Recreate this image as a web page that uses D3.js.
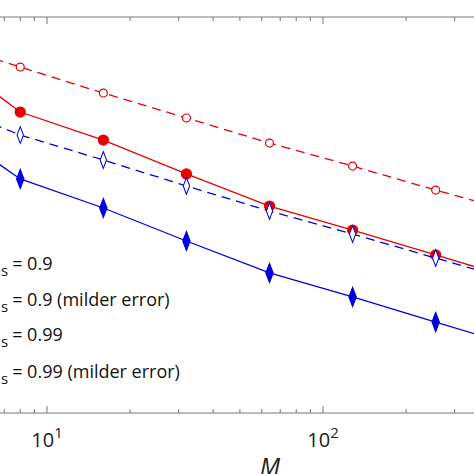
<!DOCTYPE html>
<html><head><meta charset="utf-8">
<script src="https://cdn.jsdelivr.net/npm/d3@7"></script>
<style>body{margin:0;background:#fff}</style>
</head><body><svg id="c" width="474" height="474"></svg>
<script>
// M values and log10(error) for each series
const M = [4, 8, 16, 32, 64, 128, 256, 512]
const redDashed = [-1.182, -1.379, -1.576, -1.765, -1.955, -2.129, -2.311, -2.485]
const redSolid = [-1.25, -1.720, -1.932, -2.189, -2.432, -2.614, -2.803, -2.992]
const blueDashed = [-1.644, -1.894, -2.083, -2.280, -2.470, -2.644, -2.826, -3.008]
const blueSolid = [-1.788, -2.227, -2.447, -2.697, -2.939, -3.121, -3.311, -3.5]
const legendLabels = ["= 0.9", "= 0.9 (milder error)", "= 0.99", "= 0.99 (milder error)"]

const svg = d3.select('#c')
const plotTop = 17, plotBottom = 413

const x = d3.scaleLog().domain([10, 100]).range([47, 323])
const y = d3.scaleLinear().domain([-1, -4]).range([plotTop, plotTop + 3 * 132])

svg.append('defs').append('clipPath').attr('id', 'clip')
    .append('rect').attr('x', 0).attr('y', plotTop).attr('width', 474).attr('height', plotBottom - plotTop)

// axes (top and bottom, ticks pointing inward)
const ticks = []
for (let k = 0; k <= 2; k++) for (let m = 1; m <= 9; m++) ticks.push(m * Math.pow(10, k))
const vis = ticks.filter(t => x(t) >= 0 && x(t) <= 474)
const axisColor = '#777'
for (const yy of [plotTop, plotBottom]) {
    svg.append('line').attr('x1', 0).attr('x2', 474).attr('y1', yy).attr('y2', yy)
        .attr('stroke', axisColor).attr('stroke-width', 1)
    const dir = yy === plotTop ? 1 : -1
    svg.selectAll(null).data(vis).enter().append('line')
        .attr('x1', d => x(d)).attr('x2', d => x(d))
        .attr('y1', yy)
        .attr('y2', d => yy + dir * (Number.isInteger(Math.log10(d)) ? 7 : 4))
        .attr('stroke', axisColor)
}
const labels = svg.selectAll(null).data([1, 2]).enter().append('text')
    .attr('x', d => x(Math.pow(10, d))).attr('y', 447)
    .attr('text-anchor', 'middle')
    .style('font', '20px "Open Sans", sans-serif').attr('fill', '#222')
labels.append('tspan').text('10')
labels.append('tspan').attr('dy', -9).style('font-size', '15px').text(d => d)
svg.append('text').attr('x', 270).attr('y', 475).attr('text-anchor', 'middle')
    .style('font', 'italic 24px "Open Sans", sans-serif').attr('fill', '#222').text('M')

// series
const series = [
    {v: redDashed, c: '#e60000', dash: '9,6', marker: 'circle', fill: 'white'},
    {v: redSolid, c: '#e60000', dash: null, marker: 'circle', fill: '#e60000'},
    {v: blueDashed, c: '#0000dd', dash: '9,6', marker: 'diamond', fill: 'white'},
    {v: blueSolid, c: '#0000dd', dash: null, marker: 'diamond', fill: '#0000dd'}
]
const g = svg.append('g').attr('clip-path', 'url(#clip)')
const line = d3.line().x(d => x(d[0])).y(d => y(d[1]))
series.forEach(s => {
    const pts = M.map((m, i) => [m, s.v[i]])
    g.append('path').datum(pts).attr('d', line).attr('fill', 'none')
        .attr('stroke', s.c).attr('stroke-width', 1.3).attr('stroke-dasharray', s.dash)
    const sym = s.marker === 'circle'
        ? d3.symbol().type(d3.symbolCircle).size(s.fill === 'white' ? 50 : 80)
        : d3.symbol().type(d3.symbolDiamond).size(s.fill === 'white' ? 55 : 75)
    g.selectAll(null).data(pts).enter().append('path')
        .attr('d', sym)
        .attr('transform', d => `translate(${x(d[0])},${y(d[1])})` + (s.marker === 'diamond' ? ' scale(0.8,1.2)' : ''))
        .attr('fill', s.fill).attr('stroke', s.c).attr('stroke-width', 1.2)
})

// legend (cut at the left edge)
const lg = svg.selectAll(null).data(legendLabels).enter().append('text')
    .attr('x', 1).attr('y', (d, i) => [270, 306, 341, 378][i])
    .style('font', '18px "Open Sans", sans-serif').attr('fill', '#111')
lg.append('tspan').attr('dy', 6).style('font-size', '15px').text('s')
lg.append('tspan').attr('dx', 4).attr('dy', -6).text(d => d)
</script></body></html>
